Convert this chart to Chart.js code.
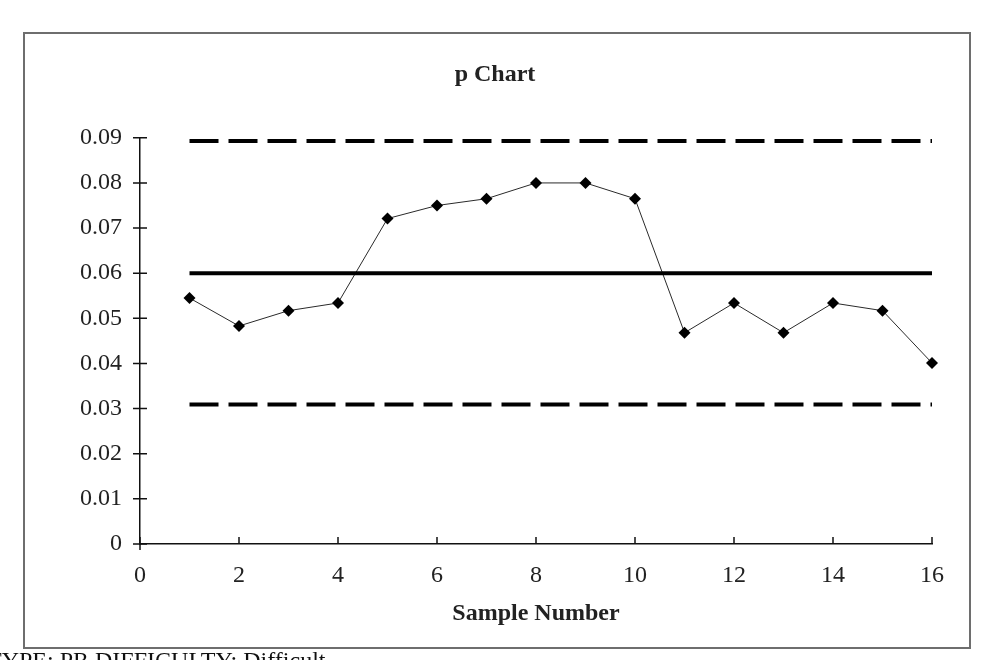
<!DOCTYPE html>
<html>
<head>
<meta charset="utf-8">
<script src="https://cdn.jsdelivr.net/npm/chart.js@4/dist/chart.umd.min.js"></script>
<style>
  html, body { margin: 0; padding: 0; background: #fff; }
  body { width: 990px; height: 668px; position: relative; overflow: hidden; }
  .frame {
    position: absolute; left: 23px; top: 32px; width: 944px; height: 613px;
    border: 2px solid #6e6e6e;
  }
  #wrap { position: absolute; left: 0; top: 0; width: 990px; height: 668px; }
  .footnote {
    position: absolute; left: -13px; top: 648px; height: 12px; overflow: hidden;
    font-family: "Liberation Serif", serif; font-size: 24px; line-height: 24px;
    color: #111; white-space: nowrap;
  }
</style>
</head>
<body>
<div class="frame"></div>
<div id="wrap"><canvas id="chart"></canvas></div>
<div class="footnote">TYPE: PR DIFFICULTY: Difficult</div>
<script>
// Sample numbers and observed proportions
const samples = [1, 2, 3, 4, 5, 6, 7, 8, 9, 10, 11, 12, 13, 14, 15, 16];
const proportions = [0.0545, 0.0483, 0.0517, 0.0534, 0.0721, 0.075, 0.0765, 0.08,
  0.08, 0.0765, 0.0468, 0.0534, 0.0468, 0.0534, 0.0517, 0.0401];

// Control limits (drawn across the sample range)
const limitX = [1, 16];
const ucl = 0.0893;
const centerLine = 0.06;
const lcl = 0.0309;

const xTicks = [0, 2, 4, 6, 8, 10, 12, 14, 16];
const yTicks = [0, 0.01, 0.02, 0.03, 0.04, 0.05, 0.06, 0.07, 0.08, 0.09];

const serif = '"Liberation Serif", "Times New Roman", serif';

function limitLine(value) {
  return limitX.map((x) => ({ x, y: value }));
}

// Small tick marks: crossing on the y axis, pointing up on the x axis
const tickMarks = {
  id: 'tickMarks',
  afterDraw(chart) {
    const { ctx, scales } = chart;
    const xs = scales.x;
    const ys = scales.y;
    const axisX = xs.getPixelForValue(0);
    const axisY = ys.getPixelForValue(0);
    ctx.save();
    ctx.strokeStyle = '#111';
    ctx.lineWidth = 1.5;
    ctx.beginPath();
    yTicks.forEach((v) => {
      const py = ys.getPixelForValue(v);
      ctx.moveTo(axisX - 7, py);
      ctx.lineTo(axisX + 7, py);
    });
    xTicks.forEach((v) => {
      const px = xs.getPixelForValue(v);
      ctx.moveTo(px, axisY);
      ctx.lineTo(px, axisY - 7);
    });
    ctx.moveTo(axisX, axisY);
    ctx.lineTo(axisX, axisY + 6);
    ctx.stroke();
    ctx.restore();
  },
};

const ctx = document.getElementById('chart');
new Chart(ctx, {
  type: 'scatter',
  data: {
    datasets: [
      {
        label: 'UCL',
        data: limitLine(ucl),
        showLine: true,
        borderColor: '#000',
        borderWidth: 4,
        borderDash: [29, 10],
        pointRadius: 0,
        clip: false,
      },
      {
        label: 'CL',
        data: limitLine(centerLine),
        showLine: true,
        borderColor: '#000',
        borderWidth: 4,
        pointRadius: 0,
        clip: false,
      },
      {
        label: 'LCL',
        data: limitLine(lcl),
        showLine: true,
        borderColor: '#000',
        borderWidth: 4,
        borderDash: [29, 10],
        pointRadius: 0,
        clip: false,
      },
      {
        label: 'p',
        data: samples.map((s, i) => ({ x: s, y: proportions[i] })),
        showLine: true,
        borderColor: '#2a2a2a',
        borderWidth: 1,
        pointStyle: 'rectRot',
        pointRadius: 6,
        pointBackgroundColor: '#000',
        pointBorderColor: '#000',
        pointBorderWidth: 0,
        clip: false,
      },
    ],
  },
  options: {
    responsive: true,
    maintainAspectRatio: false,
    animation: false,
    layout: { padding: { left: 0, right: 0, top: 0, bottom: 34 } },
    scales: {
      x: {
        type: 'linear',
        min: 0,
        max: 16,
        afterFit: (scale) => { scale.height = 90; },
        afterBuildTicks: (scale) => { scale.ticks = xTicks.map((v) => ({ value: v })); },
        grid: { display: true, drawOnChartArea: false, drawTicks: false },
        border: { display: true, color: '#111', width: 1.5 },
        ticks: {
          padding: 17,
          color: '#222',
          font: { family: serif, size: 24 },
          callback: (v) => String(v),
        },
        title: {
          display: true,
          text: 'Sample Number',
          color: '#222',
          font: { family: serif, size: 24, weight: 'bold' },
          padding: { top: 4, bottom: 6 },
        },
      },
      y: {
        type: 'linear',
        min: 0,
        max: 0.09,
        afterFit: (scale) => { scale.width = 140; },
        afterBuildTicks: (scale) => { scale.ticks = yTicks.map((v) => ({ value: v })); },
        grid: { display: true, drawOnChartArea: false, drawTicks: false },
        border: { display: true, color: '#111', width: 1.5 },
        ticks: {
          padding: 18,
          color: '#222',
          font: { family: serif, size: 24 },
          callback: (v) => (v === 0 ? '0' : Number(v).toFixed(2)),
        },
      },
      // empty right-hand strip so the title centres on the whole frame
      gap: {
        type: 'linear',
        position: 'right',
        display: true,
        afterFit: (scale) => { scale.width = 58; },
        grid: { display: false },
        border: { display: false },
        ticks: { display: false },
      },
    },
    plugins: {
      legend: { display: false },
      tooltip: { enabled: false },
      title: {
        display: true,
        text: 'p Chart',
        color: '#222',
        font: { family: serif, size: 24, weight: 'bold' },
        padding: { top: 60, bottom: 49 },
      },
    },
  },
  plugins: [tickMarks],
});
</script>
</body>
</html>
